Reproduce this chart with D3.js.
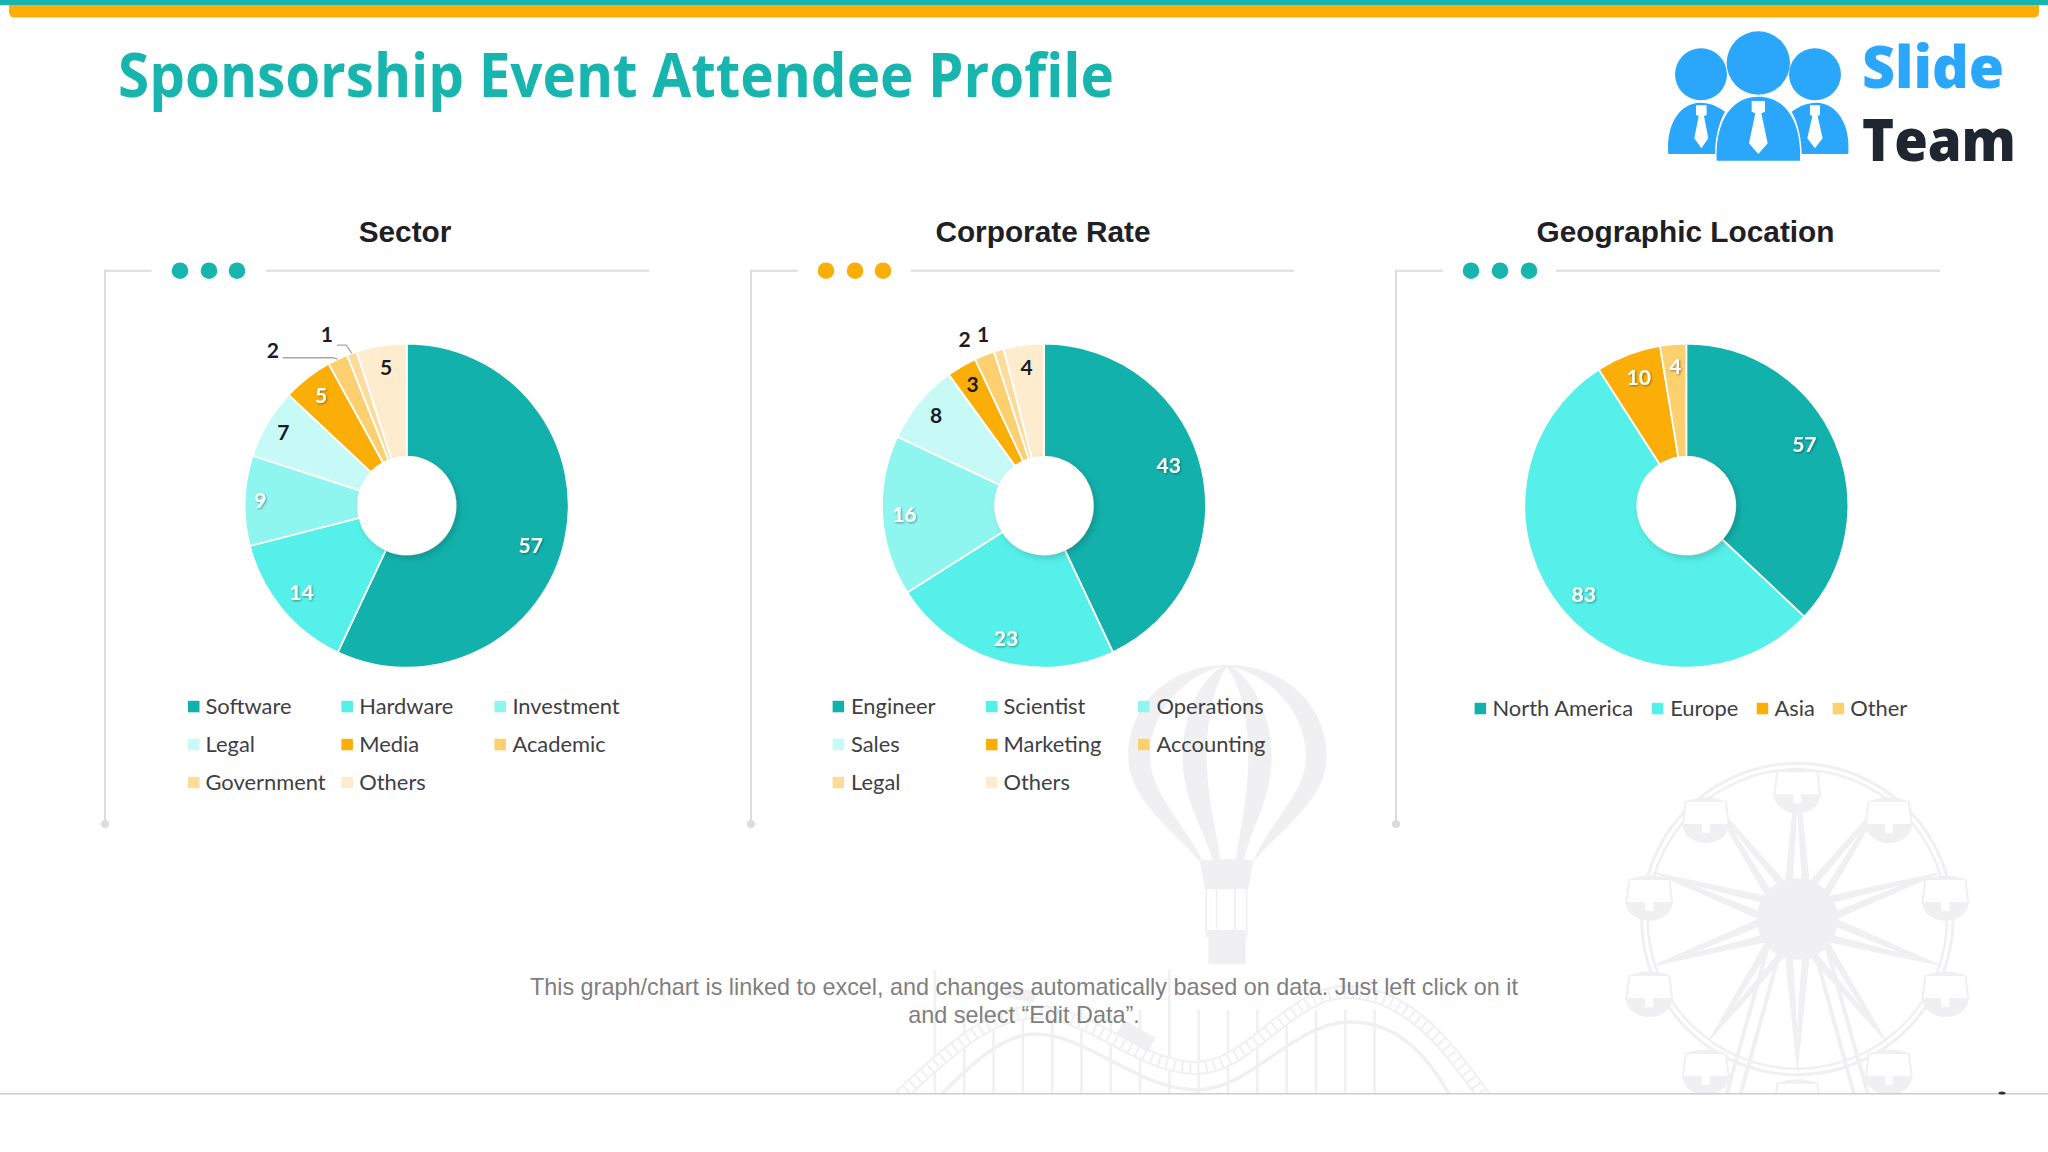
<!DOCTYPE html>
<html>
<head>
<meta charset="utf-8">
<title>Sponsorship Event Attendee Profile</title>
<script src="https://d3js.org/d3.v7.min.js"></script>
<style>
  html, body { margin: 0; padding: 0; background: #fff; }
  svg { display: block; }
</style>
</head>
<body>
<div id="root"></div>
<script>
// Data
const sectorNames = ["Software", "Hardware", "Investment", "Legal", "Media", "Academic", "Government", "Others"];
const sectorValues = [57, 14, 9, 7, 5, 2, 1, 5];
const corporateNames = ["Engineer", "Scientist", "Operations", "Sales", "Marketing", "Accounting", "Legal", "Others"];
const corporateValues = [43, 23, 16, 8, 3, 2, 1, 4];
const geoNames = ["North America", "Europe", "Asia", "Other"];
const geoValues = [57, 83, 10, 4];
const panelTitles = ["Sector", "Corporate Rate", "Geographic Location"];
const footnoteLines = [
  "This graph/chart is linked to excel, and changes automatically based on data. Just left click on it",
  "and select \u201CEdit Data\u201D."
];

const sliceColors = ["#13b1ac", "#55f0e9", "#8ff5ef", "#c7faf6", "#fbae08", "#fccf6f", "#fddc9b", "#feeccf"];
const geoColors = ["#13b1ac", "#55f0e9", "#fbae08", "#fccf6f"];
const TEAL = "#17b5ae";
const ORANGE = "#fbae08";
const GHOST = "#f0eff1";
const LABEL_FONT = "Lato, sans-serif";

const W = 2048, H = 1152;
const svg = d3.select("#root").append("svg").attr("width", W).attr("height", H);
const defs = svg.append("defs");

const textShadow = defs.append("filter").attr("id", "textShadow");
textShadow.append("feDropShadow").attr("dx", 1).attr("dy", 1).attr("stdDeviation", 0.8)
  .attr("flood-color", "#000").attr("flood-opacity", 0.4);
const holeShadow = defs.append("filter").attr("id", "holeShadow")
  .attr("x", "-30%").attr("y", "-30%").attr("width", "160%").attr("height", "160%");
holeShadow.append("feDropShadow").attr("dx", 3).attr("dy", 3).attr("stdDeviation", 3.5)
  .attr("flood-color", "#000").attr("flood-opacity", 0.18);
defs.append("clipPath").attr("id", "aboveRule").append("rect")
  .attr("x", 0).attr("y", 0).attr("width", W).attr("height", 1093);

drawBackdrop();

// Header bars
svg.append("rect").attr("x", 0).attr("y", 0).attr("width", W).attr("height", 5).attr("fill", TEAL);
svg.append("path").attr("fill", ORANGE)
  .attr("d", "M9,5 H2039 V12 Q2039,17.5 2033,17.5 H15 Q9,17.5 9,12 Z");

svg.append("text").text("Sponsorship Event Attendee Profile")
  .attr("x", 118).attr("y", 97)
  .attr("font-family", "'Open Sans', sans-serif").attr("font-weight", 700).attr("font-size", 60)
  .attr("textLength", 996).attr("lengthAdjust", "spacingAndGlyphs")
  .attr("fill", TEAL);

drawLogo();

// Footer rule and footnote
svg.append("line").attr("x1", 0).attr("x2", W).attr("y1", 1093.7).attr("y2", 1093.7)
  .attr("stroke", "#cbcbcf").attr("stroke-width", 1.5);
svg.append("ellipse").attr("cx", 2002).attr("cy", 1093).attr("rx", 3.5).attr("ry", 1.5).attr("fill", "#333");

svg.selectAll(".footnote").data(footnoteLines).join("text")
  .attr("class", "footnote")
  .attr("x", 1024).attr("y", (d, i) => 995 + i * 27.7)
  .attr("text-anchor", "middle")
  .attr("font-family", "'Liberation Sans', Arial, sans-serif").attr("font-size", 23.4)
  .attr("fill", "#7f7f7f")
  .text((d) => d);

// Panels
drawPanel({
  title: panelTitles[0], names: sectorNames, values: sectorValues, colors: sliceColors,
  frameX: 105, lineEnd: 649, gapStart: 151.5, gapEnd: 266, dots: [180, 209, 237], dotColor: TEAL,
  titleX: 405, cx: 406.7,
  nudges: [[21, 17], [-24, 20], [-41, -2], [-32.5, -19], [-21, -27], [-89, -59.5], [-44, -72], [-4, -34]],
  darkLabels: [3, 5, 6, 7],
  leaders: { 5: [[10, 7], [60, 7]], 6: [[10, 10.6], [19.5, 10.6]] },
  legendSwatchX: [188, 341.4, 494.5], legendTextX: [205.5, 359.3, 512.4], legendY: [706, 744, 782],
  legendCols: 3,
});
drawPanel({
  title: panelTitles[1], names: corporateNames, values: corporateValues, colors: sliceColors,
  frameX: 751, lineEnd: 1294, gapStart: 798, gapEnd: 911, dots: [826, 855, 883], dotColor: ORANGE,
  titleX: 1043, cx: 1044,
  nudges: [[21.7, -17], [-8.6, 31.4], [-34.4, 2.7], [-26.7, -22.5], [-17.6, -29.9], [-40.5, -68.2], [-31.6, -70], [-4.1, -33.6]],
  darkLabels: [3, 4, 5, 6, 7],
  leaders: {},
  legendSwatchX: [832.6, 986, 1138], legendTextX: [851, 1003.5, 1156.5], legendY: [706, 744, 782],
  legendCols: 3,
});
drawPanel({
  title: panelTitles[2], names: geoNames, values: geoValues, colors: geoColors,
  frameX: 1396, lineEnd: 1940, gapStart: 1443, gapEnd: 1556, dots: [1471, 1500, 1529], dotColor: TEAL,
  titleX: 1685.5, cx: 1686.3,
  nudges: [[21.2, -19.1], [-21.5, 21.9], [-9.7, -29.6], [-2.4, -33.8]],
  darkLabels: [],
  leaders: {},
  legendSwatchX: [1474.6, 1651.7, 1756.7, 1832.7], legendTextX: [1492.5, 1670.2, 1774.5, 1850.2], legendY: [708],
  legendCols: 4,
});

function drawPanel(p) {
  const cy = 505.7, outer = 162, inner = 49;
  const frameY = 270.7, frameBottom = 824;

  svg.append("text").text(p.title)
    .attr("x", p.titleX).attr("y", 241.5).attr("text-anchor", "middle")
    .attr("font-family", "'Liberation Sans', Arial, sans-serif").attr("font-weight", 700).attr("font-size", 29.8)
    .attr("fill", "#202024");

  const frame = svg.append("g").attr("stroke", "#dcdcdf").attr("stroke-width", 2).attr("fill", "none");
  frame.append("path").attr("d", `M${p.frameX},${frameBottom} V${frameY} H${p.gapStart}`);
  frame.append("path").attr("d", `M${p.gapEnd},${frameY} H${p.lineEnd}`);
  svg.append("circle").attr("cx", p.frameX).attr("cy", frameBottom).attr("r", 4).attr("fill", "#dcdcdf");
  svg.selectAll(null).data(p.dots).join("circle")
    .attr("cx", (d) => d).attr("cy", frameY).attr("r", 8.3).attr("fill", p.dotColor);

  const pie = d3.pie().sort(null).value((d) => d);
  const arc = d3.arc().innerRadius(inner).outerRadius(outer);
  const midArc = d3.arc().innerRadius((inner + outer) / 2).outerRadius((inner + outer) / 2);
  const rimArc = d3.arc().innerRadius(outer).outerRadius(outer);
  const arcs = pie(p.values);

  const g = svg.append("g").attr("transform", `translate(${p.cx},${cy})`);
  g.selectAll("path.slice").data(arcs).join("path")
    .attr("class", "slice")
    .attr("d", arc)
    .attr("fill", (d, i) => p.colors[i])
    .attr("stroke", "#fff").attr("stroke-width", 1.8);
  g.append("circle").attr("r", inner).attr("fill", "#fff").attr("filter", "url(#holeShadow)");

  // Leader lines for the two slices whose labels sit outside
  arcs.forEach((d, i) => {
    const hops = p.leaders[i];
    if (!hops) return;
    const [mx, my] = midArc.centroid(d);
    const [rx, ry] = rimArc.centroid(d);
    const pts = hops.map(([dx, dy]) => [mx + p.nudges[i][0] + dx, my + p.nudges[i][1] + dy]);
    pts.push([rx, ry]);
    g.append("path").attr("d", d3.line()(pts)).attr("fill", "none")
      .attr("stroke", "#a6a6a6").attr("stroke-width", 1.3);
  });

  g.selectAll("text.value").data(arcs).join("text")
    .attr("class", "value")
    .attr("x", (d, i) => midArc.centroid(d)[0] + p.nudges[i][0])
    .attr("y", (d, i) => midArc.centroid(d)[1] + p.nudges[i][1])
    .attr("dy", "0.35em").attr("text-anchor", "middle")
    .attr("font-family", LABEL_FONT).attr("font-weight", 700).attr("font-size", 21)
    .attr("fill", (d, i) => (p.darkLabels.includes(i) ? "#1c1c26" : "#fff"))
    .attr("filter", (d, i) => (p.darkLabels.includes(i) ? null : "url(#textShadow)"))
    .text((d) => d.value);

  const legend = svg.append("g").selectAll("g").data(p.names).join("g");
  const col = (i) => i % p.legendCols;
  const row = (i) => Math.floor(i / p.legendCols);
  legend.append("rect")
    .attr("x", (d, i) => p.legendSwatchX[col(i)])
    .attr("y", (d, i) => p.legendY[row(i)] - 5.2)
    .attr("width", 11.5).attr("height", 11.5)
    .attr("fill", (d, i) => p.colors[i]);
  legend.append("text")
    .attr("x", (d, i) => p.legendTextX[col(i)])
    .attr("y", (d, i) => p.legendY[row(i)])
    .attr("dy", "0.35em")
    .attr("font-family", LABEL_FONT).attr("font-size", 21.9)
    .attr("fill", "#404044")
    .text((d) => d);
}

function drawLogo() {
  const BLUE = "#2aa7fb";
  const logo = svg.append("g").attr("transform", "translate(1600,0) scale(0.3333)");
  [[303, 223, 78], [475, 189, 95], [645, 223, 78]].forEach(([x, y, r]) => {
    logo.append("circle").attr("cx", x).attr("cy", y).attr("r", r).attr("fill", BLUE);
  });
  [
    "M205,462 C198,370 240,310 300,308 C330,308 355,320 375,335 C355,370 345,420 345,462 Z",
    "M575,335 C595,320 620,308 650,308 C710,310 752,370 745,462 L605,462 C605,420 595,370 575,335 Z",
    "M350,482 C345,370 390,290 475,290 C560,290 605,370 600,482 Z",
  ].forEach((d) => logo.append("path").attr("d", d).attr("fill", BLUE));
  [
    "M288,316 H320 V345 L312,348 L325,415 L304,445 L283,415 L296,348 L288,345 Z",
    "M630,316 H660 V345 L653,348 L668,415 L645,445 L622,415 L637,348 L630,345 Z",
    "M455,303 H495 V335 L484,340 L503,430 L475,462 L447,430 L466,340 L455,335 Z",
  ].forEach((d) => logo.append("path").attr("d", d).attr("fill", "#fff"));

  const wordmark = (txt, y, len, color) => svg.append("text").text(txt)
    .attr("x", 1862).attr("y", y)
    .attr("font-family", "'Open Sans', sans-serif").attr("font-weight", 800).attr("font-size", 59)
    .attr("textLength", len).attr("lengthAdjust", "spacingAndGlyphs")
    .attr("fill", color);
  wordmark("Slide", 88, 142, BLUE);
  wordmark("Team", 161, 154, "#1f2630");
}

// Faint balloon, roller coaster and ferris wheel behind the slide
function drawBackdrop() {
  const back = svg.append("g").attr("clip-path", "url(#aboveRule)");

  const balloon = back.append("g").attr("transform", "translate(880,650) scale(0.3333)");
  balloon.append("path").attr("fill", GHOST)
    .attr("d", "M1040,45 C1220,45 1340,170 1340,320 C1340,450 1200,540 1120,635 L1105,718 L975,718 L960,635 C880,540 745,450 745,320 C745,170 860,45 1040,45 Z");
  [
    "M1025,50 C930,70 810,170 810,320 C810,430 920,530 965,630 L1000,630 C960,520 908,440 908,320 C908,200 960,90 1025,50 Z",
    "M1040,50 C1000,110 980,210 980,320 C980,440 1010,540 1020,628 L1068,628 C1080,540 1105,440 1105,320 C1105,210 1085,110 1040,50 Z",
    "M1055,50 C1120,90 1175,200 1175,320 C1175,440 1120,520 1092,628 L1120,632 C1160,530 1278,430 1278,320 C1278,170 1150,70 1055,50 Z",
  ].forEach((d) => balloon.append("path").attr("d", d).attr("fill", "#fff"));
  [978, 1010, 1065, 1100].forEach((x) => {
    balloon.append("line").attr("x1", x).attr("x2", x).attr("y1", 718).attr("y2", 842)
      .attr("stroke", GHOST).attr("stroke-width", 5);
  });
  balloon.append("rect").attr("x", 978).attr("y", 840).attr("width", 124).attr("height", 22).attr("fill", GHOST);
  balloon.append("rect").attr("x", 985).attr("y", 860).attr("width", 112).attr("height", 82).attr("fill", GHOST);

  // coaster posts
  d3.range(0, 16).forEach((i) => {
    const x = 935 + i * 29.3;
    back.append("line").attr("x1", x).attr("x2", x).attr("y1", i === 0 || i === 8 ? 970 : 1010).attr("y2", 1094)
      .attr("stroke", GHOST).attr("stroke-width", 2.5);
  });
  // track: rail band, hollowed out, with ties across it
  const upper = "M900,1096 C950,1050 990,1012 1036,1012 C1090,1012 1140,1068 1196,1068 C1250,1068 1290,992 1346,992 C1410,992 1450,1050 1484,1096";
  const lower = "M940,1096 C975,1060 1005,1034 1036,1034 C1085,1034 1140,1090 1196,1090 C1250,1090 1290,1026 1346,1022 C1400,1020 1430,1060 1450,1096";
  const track = back.append("g").attr("fill", "none");
  track.append("path").attr("d", upper).attr("stroke", GHOST).attr("stroke-width", 14);
  track.append("path").attr("d", upper).attr("stroke", "#fff").attr("stroke-width", 10);
  track.append("path").attr("d", upper).attr("stroke", GHOST).attr("stroke-width", 10).attr("stroke-dasharray", "2 6");
  track.append("path").attr("d", lower).attr("stroke", GHOST).attr("stroke-width", 3.5);
  back.append("rect").attr("x", 1118).attr("y", 1028).attr("width", 36).attr("height", 16).attr("fill", GHOST)
    .attr("transform", "rotate(30 1136 1036)");
  back.append("rect").attr("x", 1005).attr("y", 988).attr("width", 30).attr("height", 12).attr("fill", GHOST)
    .attr("transform", "rotate(12 1020 994)");

  // ferris wheel
  const wheel = back.append("g").attr("transform", "translate(1797.3,919)");
  const rim = 155.7;
  wheel.append("circle").attr("r", rim).attr("fill", "none").attr("stroke", GHOST).attr("stroke-width", 3);
  wheel.append("circle").attr("r", rim - 6).attr("fill", "none").attr("stroke", GHOST).attr("stroke-width", 2.5);
  d3.range(0, 10).forEach((i) => {
    const a = (i * 36 * Math.PI) / 180;
    const px = rim * Math.sin(a), py = -rim * Math.cos(a);
    const nx = Math.cos(a), ny = Math.sin(a);
    const base = 30;
    wheel.append("path").attr("fill", GHOST)
      .attr("d", `M${px},${py} L${base * Math.sin(a) + nx * 13},${-base * Math.cos(a) + ny * 13} L${base * Math.sin(a) + nx * 5},${-base * Math.cos(a) + ny * 5} L${px * 0.7},${py * 0.7} L${base * Math.sin(a) - nx * 5},${-base * Math.cos(a) - ny * 5} L${base * Math.sin(a) - nx * 13},${-base * Math.cos(a) - ny * 13} Z`);
    const cabin = wheel.append("g").attr("transform", `translate(${px},${py})`);
    cabin.append("path").attr("d", "M-20,8 L-23,32 H23 L20,8").attr("fill", "#fff").attr("stroke", GHOST).attr("stroke-width", 2);
    cabin.append("path").attr("d", "M-23,32 A23,18 0 0 0 23,32 Z").attr("fill", GHOST);
    cabin.append("path").attr("d", "M-22,9 Q0,0 22,9 Z").attr("fill", GHOST);
    cabin.append("rect").attr("x", -4).attr("y", 31).attr("width", 8).attr("height", 9).attr("fill", "#fff");
  });
  // legs under the hub
  wheel.append("path").attr("d", "M-30,30 L-72,180 M-18,34 L-58,180 M30,30 L72,180 M18,34 L58,180")
    .attr("fill", "none").attr("stroke", GHOST).attr("stroke-width", 4);
  wheel.append("circle").attr("r", 40.7).attr("fill", GHOST);
}
</script>
</body>
</html>
